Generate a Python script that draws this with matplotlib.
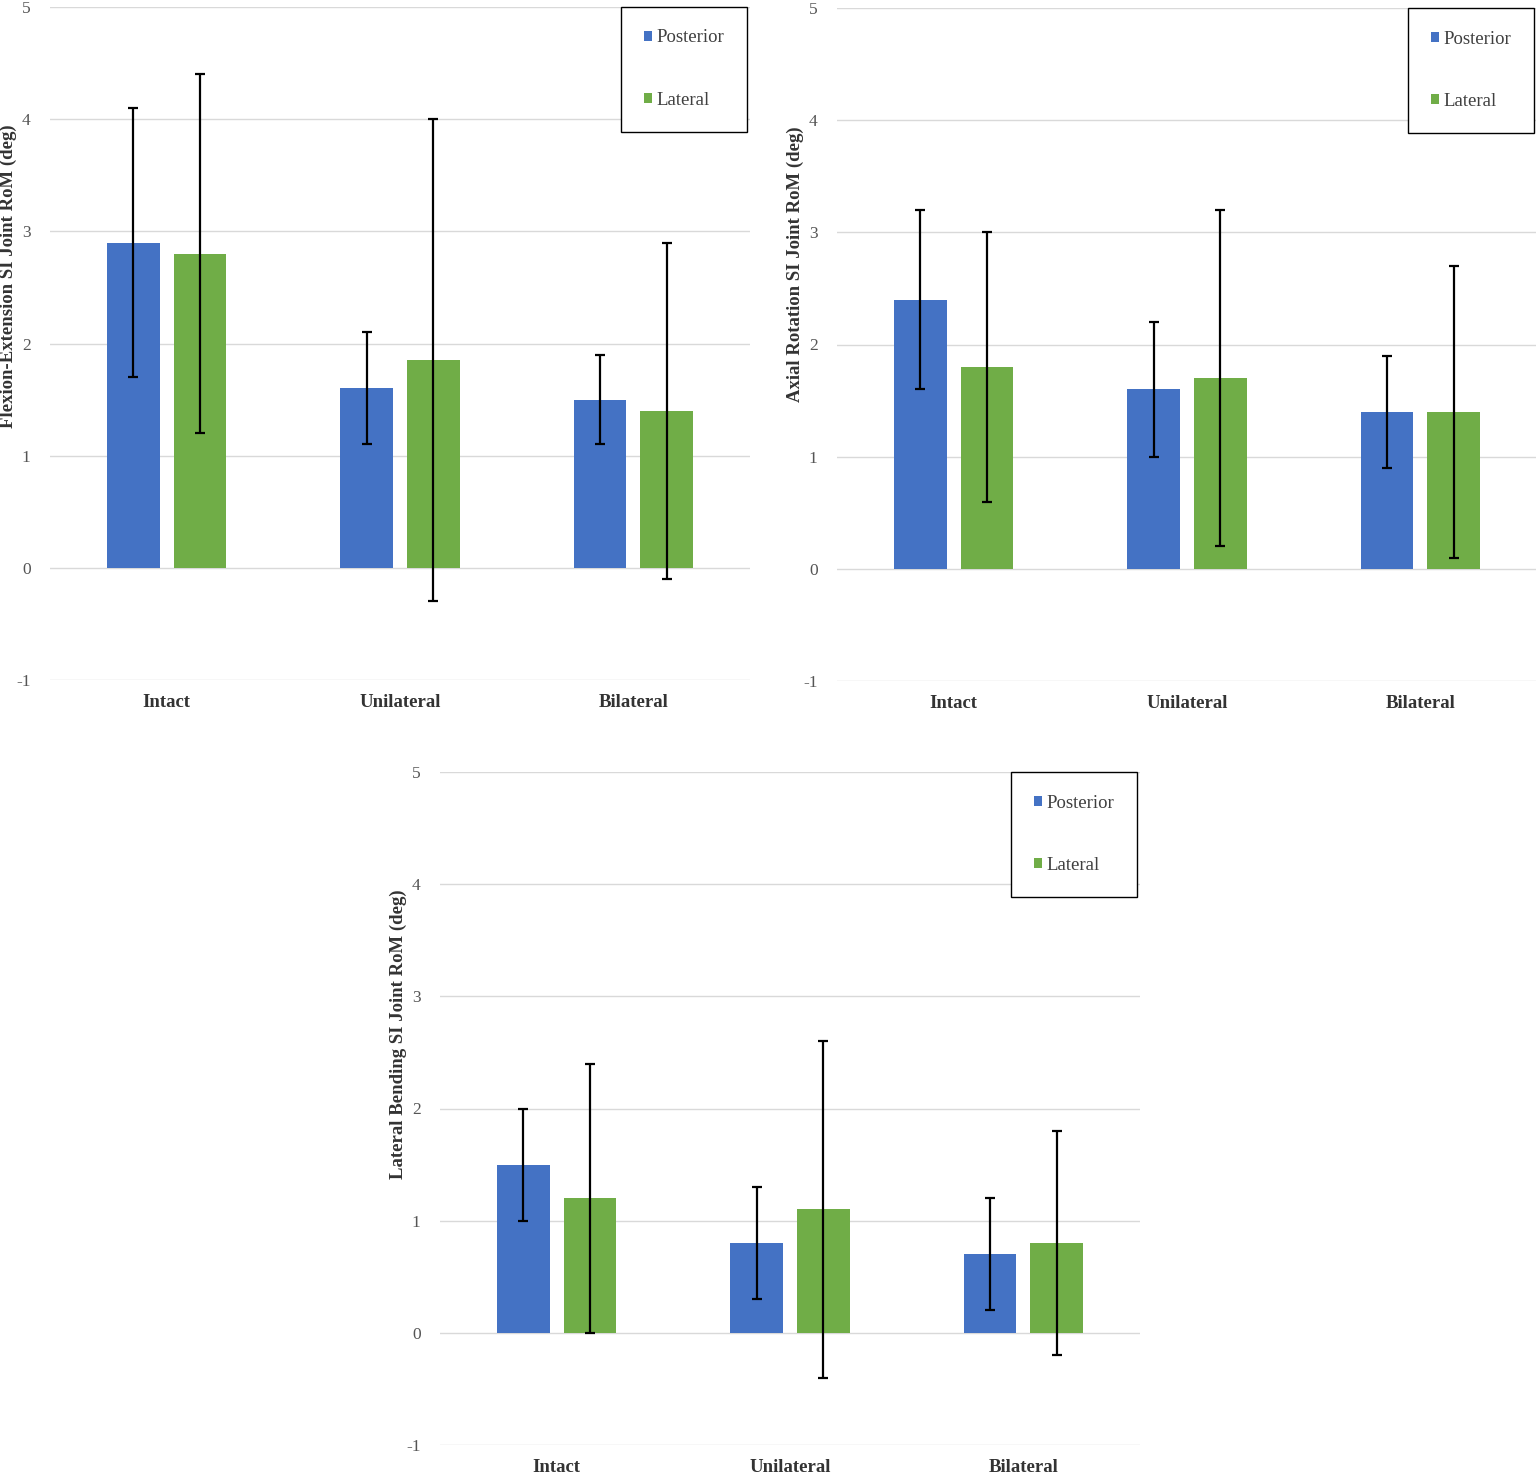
import matplotlib.pyplot as plt
import numpy as np

plt.rcParams["font.family"] = ["Liberation Serif", "DejaVu Serif"]
plt.rcParams["axes.unicode_minus"] = False

CATEGORIES = ["Intact", "Unilateral", "Bilateral"]
SERIES = ["Posterior", "Lateral"]
COLORS = {"Posterior": "#4472C4", "Lateral": "#70AD47"}

# Flexion-Extension
fe_post = [2.9, 1.6, 1.5]
fe_post_err = [1.2, 0.5, 0.4]
fe_lat = [2.8, 1.85, 1.4]
fe_lat_err = [1.6, 2.15, 1.5]

# Axial Rotation
ar_post = [2.4, 1.6, 1.4]
ar_post_err = [0.8, 0.6, 0.5]
ar_lat = [1.8, 1.7, 1.4]
ar_lat_err = [1.2, 1.5, 1.3]

# Lateral Bending
lb_post = [1.5, 0.8, 0.7]
lb_post_err = [0.5, 0.5, 0.5]
lb_lat = [1.2, 1.1, 0.8]
lb_lat_err = [1.2, 1.5, 1.0]

W, H = 1536, 1476
fig = plt.figure(figsize=(W / 100, H / 100), dpi=100)


def panel(rect, post, post_err, lat, lat_err, ylabel, label_y):
    ax = fig.add_axes(rect)
    x = np.arange(len(CATEGORIES))
    width = 0.225
    off = 0.143
    for s, vals, errs, dx in [("Posterior", post, post_err, -off),
                              ("Lateral", lat, lat_err, off)]:
        ax.bar(x + dx, vals, width, color=COLORS[s], label=s, zorder=2)
        ax.errorbar(x + dx, vals, yerr=errs, fmt="none", ecolor="black",
                    elinewidth=1.6, capsize=3.5, capthick=1.6, zorder=3)
    ax.set_xlim(-0.5, 2.5)
    ax.set_ylim(-1, 5)
    ax.set_yticks(range(-1, 6))
    ax.set_xticks(x)
    ax.set_xticklabels(CATEGORIES, fontsize=13.5, fontweight="bold", color="#333333")
    ax.tick_params(axis="y", labelsize=12.5, colors="#555555", length=0, pad=14)
    ax.tick_params(axis="x", length=0, pad=10)
    ax.grid(axis="y", color="#d9d9d9", lw=1.0, zorder=0)
    ax.set_axisbelow(True)
    for sp in ax.spines.values():
        sp.set_visible(False)
    ax.set_ylabel(ylabel, fontsize=13.5, fontweight="bold", color="#333333")
    ax.yaxis.set_label_coords(-0.047, label_y)
    leg = ax.legend(loc="upper right", bbox_to_anchor=(0.996, 1.0), fontsize=13.5,
                    fancybox=False, edgecolor="black", framealpha=1,
                    handlelength=0.45, handleheight=0.45, handletextpad=0.25,
                    labelspacing=2.43, borderpad=1.2, borderaxespad=0)
    leg.get_frame().set_linewidth(1.0)
    for t in leg.get_texts():
        t.set_color("#404040")
    return ax


pw, ph = 700 / W, 673 / H
panel([50 / W, (H - 680) / H, pw, ph], fe_post, fe_post_err, fe_lat, fe_lat_err,
      "Flexion-Extension SI Joint RoM (deg)", 0.60)
panel([837 / W, (H - 681) / H, pw, ph], ar_post, ar_post_err, ar_lat, ar_lat_err,
      "Axial Rotation SI Joint RoM (deg)", 0.62)
panel([440 / W, (H - 1445) / H, pw, ph], lb_post, lb_post_err, lb_lat, lb_lat_err,
      "Lateral Bending SI Joint RoM (deg)", 0.61)

fig.savefig("out.png", dpi=100)
